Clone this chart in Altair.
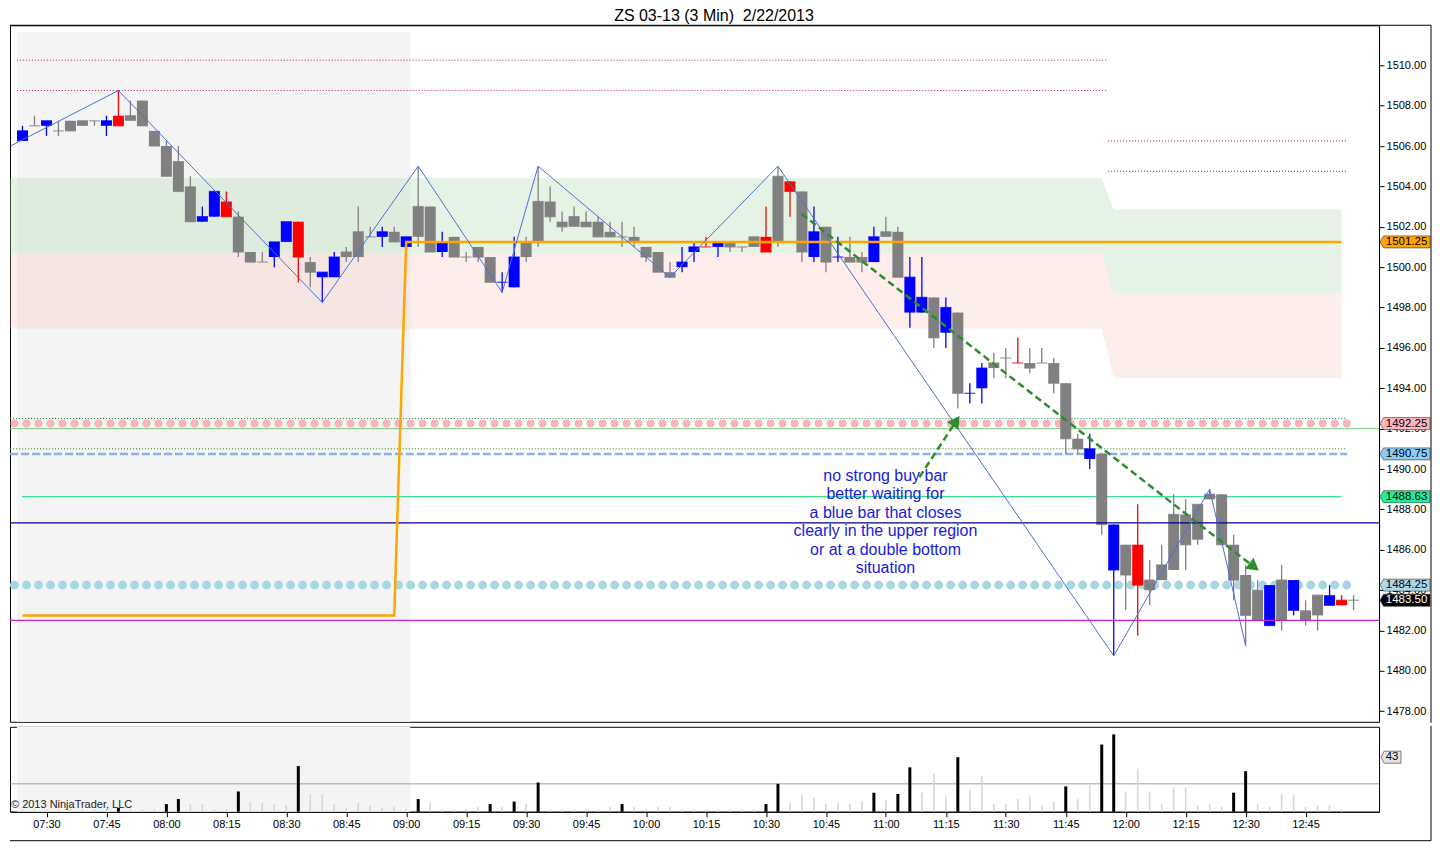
import altair as alt
import pandas as pd

# ZS 03-13, 3 minute bars on 2/22/2013, first bar stamped 07:24
first_bar = 7 * 60 + 24
bar_len = 3

opens = [1506.25, 1507.0, 1507.0, 1506.75, 1507.25, 1507.0, 1507.25, 1507.0, 1507.5, 1507.25,
         1508.25, 1506.75, 1506.0, 1505.25, 1504.0, 1502.25, 1502.5, 1503.25, 1502.5, 1500.75,
         1500.25, 1500.5, 1501.25, 1502.25, 1500.25, 1499.5, 1499.5, 1500.5, 1500.5, 1501.5,
         1501.5, 1501.75, 1501.0, 1501.5, 1503.0, 1500.75, 1501.5, 1500.5, 1501.0, 1500.5,
         1499.25, 1499.0, 1500.5, 1501.25, 1503.25, 1502.25, 1502.0, 1502.25, 1502.25, 1501.75,
         1501.5, 1501.5, 1501.0, 1500.75, 1499.75, 1500.0, 1500.75, 1501.0, 1501.0, 1501.25,
         1501.0, 1501.0, 1501.5, 1501.25, 1504.25, 1503.75, 1500.5, 1502.0, 1500.5, 1500.5,
         1500.5, 1500.25, 1501.5, 1501.75, 1497.75, 1497.75, 1498.5, 1496.75, 1497.75, 1493.75,
         1494.0, 1495.0, 1495.5, 1495.25, 1495.25, 1495.25, 1495.25, 1494.25, 1491.5, 1490.5,
         1490.75, 1487.25, 1486.25, 1486.25, 1484.0, 1484.5, 1485.0, 1487.75, 1486.5, 1488.5,
         1488.75, 1486.25, 1484.75, 1482.5, 1484.25, 1482.5, 1484.5, 1483.0, 1482.75, 1483.75,
         1483.25, 1483.5]
highs = [1507.0, 1507.5, 1507.25, 1507.25, 1507.25, 1507.25, 1507.25, 1507.5, 1508.75, 1508.25,
         1508.25, 1506.75, 1506.25, 1506.0, 1504.5, 1503.0, 1503.75, 1503.75, 1502.75, 1500.75,
         1500.75, 1501.25, 1502.25, 1502.25, 1500.5, 1499.75, 1500.75, 1501.0, 1503.0, 1502.0,
         1502.0, 1502.0, 1501.5, 1505.0, 1503.0, 1501.75, 1501.5, 1500.75, 1501.0, 1500.5,
         1499.75, 1501.5, 1501.5, 1505.0, 1504.0, 1502.75, 1503.0, 1502.75, 1502.5, 1502.25,
         1502.25, 1502.0, 1501.0, 1500.75, 1500.25, 1501.0, 1501.25, 1501.5, 1501.25, 1501.25,
         1501.0, 1501.5, 1503.0, 1505.0, 1504.25, 1503.75, 1503.0, 1502.0, 1501.5, 1501.5,
         1500.75, 1502.0, 1502.5, 1502.0, 1500.5, 1500.5, 1498.5, 1498.5, 1497.75, 1494.25,
         1495.25, 1495.75, 1496.0, 1496.5, 1496.0, 1496.0, 1495.5, 1494.25, 1491.75, 1491.75,
         1490.75, 1487.25, 1486.25, 1488.25, 1485.5, 1486.25, 1488.75, 1488.5, 1488.25, 1489.0,
         1488.75, 1486.75, 1485.25, 1484.5, 1484.25, 1485.25, 1484.5, 1483.5, 1483.75, 1484.25,
         1483.75, 1483.75]
lows = [1506.25, 1507.0, 1506.5, 1506.5, 1506.75, 1507.0, 1507.0, 1506.5, 1507.0, 1507.25,
        1507.0, 1506.0, 1504.5, 1503.75, 1502.25, 1502.25, 1502.5, 1502.5, 1500.5, 1500.25,
        1500.25, 1500.0, 1501.25, 1499.25, 1499.0, 1498.25, 1499.5, 1500.25, 1500.25, 1501.5,
        1501.0, 1501.25, 1501.0, 1501.0, 1500.75, 1500.5, 1500.5, 1500.25, 1500.25, 1499.25,
        1498.75, 1499.0, 1500.25, 1501.0, 1502.25, 1501.75, 1502.0, 1502.0, 1501.5, 1501.5,
        1501.0, 1501.0, 1500.25, 1499.75, 1499.5, 1499.75, 1500.25, 1501.0, 1500.5, 1500.75,
        1500.75, 1501.0, 1500.75, 1501.0, 1502.5, 1500.25, 1500.25, 1499.75, 1500.25, 1500.25,
        1499.75, 1500.25, 1501.5, 1499.5, 1497.0, 1497.75, 1496.0, 1496.0, 1493.0, 1493.25,
        1493.25, 1494.5, 1494.5, 1495.25, 1494.75, 1495.25, 1493.75, 1490.75, 1490.75, 1490.0,
        1486.75, 1480.75, 1483.0, 1481.75, 1483.25, 1484.5, 1485.0, 1485.0, 1486.25, 1488.5,
        1486.25, 1483.5, 1481.25, 1482.5, 1482.25, 1482.0, 1482.75, 1482.25, 1482.0, 1483.25,
        1483.25, 1483.0]
closes = [1506.75, 1507.0, 1507.25, 1506.75, 1506.75, 1507.25, 1507.25, 1507.25, 1507.0, 1507.5,
          1507.0, 1506.0, 1504.5, 1503.75, 1502.25, 1502.5, 1503.75, 1502.5, 1500.75, 1500.25,
          1500.25, 1501.25, 1502.25, 1500.5, 1499.75, 1499.75, 1500.5, 1500.75, 1501.75, 1501.5,
          1501.75, 1501.25, 1501.5, 1503.0, 1500.75, 1501.25, 1500.5, 1500.5, 1500.5, 1499.25,
          1499.25, 1500.5, 1501.25, 1503.25, 1502.5, 1502.0, 1502.5, 1502.0, 1501.5, 1501.5,
          1501.5, 1501.25, 1500.5, 1499.75, 1499.5, 1500.25, 1501.0, 1501.0, 1501.25, 1501.0,
          1501.0, 1501.5, 1500.75, 1504.5, 1503.75, 1500.75, 1501.75, 1500.25, 1500.5, 1500.25,
          1500.25, 1501.5, 1501.75, 1499.5, 1499.5, 1498.5, 1496.5, 1498.0, 1493.75, 1493.75,
          1495.0, 1495.25, 1495.5, 1495.25, 1495.0, 1495.25, 1494.25, 1491.5, 1491.0, 1491.0,
          1487.25, 1485.0, 1484.75, 1484.25, 1484.5, 1485.25, 1487.75, 1486.25, 1488.25, 1488.75,
          1486.25, 1484.5, 1482.75, 1484.0, 1482.25, 1484.5, 1483.0, 1482.5, 1483.75, 1483.25,
          1483.5, 1483.5]
# G = plain bar, B = blue signal bar, R = red signal bar, K = bar still forming
bar_kind = list("BGBGGGGBRGGGGGGBBRGGGBBRGBBGGGBGBGGBGGGGBBGGGGGGGGGGGGGBBRBGGGRGRGBGBGGBGGBBGBGBBGGRGGGGGBGBGRGGGGGGGGGGBGBGGBRGK")

volumes = [2, 2, 2, 2, 2, 2, 2, 2, 3, 2, 2, 2, 6, 10, 6, 6, 2, 2, 16, 8,
           7, 6, 5, 36, 14, 14, 6, 3, 7, 5, 3, 4, 2, 10, 7, 2, 2, 2, 4, 6,
           4, 8, 6, 23, 2, 2, 2, 2, 2, 4, 6, 4, 2, 4, 4, 2, 2, 2, 2, 2,
           2, 2, 6, 22, 7, 13, 11, 6, 7, 6, 8, 15, 9, 14, 35, 15, 30, 12, 43, 17,
           28, 6, 6, 10, 12, 5, 8, 20, 10, 21, 53, 61, 16, 34, 16, 6, 19, 19, 5, 6,
           4, 15, 32, 6, 4, 14, 13, 4, 5, 5, 2]
heavy_bars = [9, 13, 14, 19, 24, 34, 40, 42, 44, 51, 63, 64, 72, 74, 75, 79, 88, 91, 92, 102, 103]
volume_ref = 22
volume_tag = 43

tick_minutes = list(range(7 * 60 + 30, 12 * 60 + 46, 15))
price_ticks = list(range(1478, 1511, 2))

# zigzag swing points (minute, price)
zig_t = [441, 468, 519, 543, 564, 573, 606, 633, 717, 741, 750]
zig_p = [1506.0, 1508.75, 1498.25, 1505.0, 1498.75, 1505.0, 1499.5, 1505.0, 1480.75, 1489.0, 1481.25]

# orange step line
orange_t = [444, 537, 540, 774]
orange_p = [1482.75, 1482.75, 1501.25, 1501.25]

# zone bands
band_t = [440.9, 714.0, 717.0, 774.0]
green_top = [1504.4, 1504.4, 1502.85, 1502.85]
green_bot = [1500.7, 1500.7, 1498.7, 1498.7]
pink_bot = [1496.95, 1496.95, 1494.5, 1494.5]

shade_t = [442.6, 541.0]
shade_top = 1511.63

red_left = [1510.25, 1508.75]
red_right = [1506.25, 1504.75]

tag_prices = [1501.25, 1492.25, 1490.75, 1488.63, 1484.25, 1483.50]

note = ("no strong buy bar\nbetter waiting for\na blue bar that closes\n"
        "clearly in the upper region\nor at a double bottom\nsituation")

arrow_a_t = [638.9, 752.1]
arrow_a_p = [1502.64, 1485.15]
arrow_b_t = [668.4, 677.6]
arrow_b_p = [1489.6, 1492.38]

# ---------------------------------------------------------------
W, H, VH = 1370, 697, 85
font = "Liberation Sans"
x_dom = [440.875, 783.375]
y_dom = [1477.48, 1511.98]
x_scale = alt.Scale(domain=x_dom, nice=False, zero=False, padding=0)
y_scale = alt.Scale(domain=y_dom, nice=False, zero=False)
y_axis = alt.Axis(orient="right", values=price_ticks, format=".2f", tickSize=5, labelPadding=2,
                  labelFont=font, labelFontSize=11, labelColor="black", tickColor="black",
                  domainColor="black", grid=False, title=None)


def X(f):
    return alt.X(f, type="quantitative", scale=x_scale, axis=None)


def Y(f):
    return alt.Y(f, type="quantitative", scale=y_scale, axis=y_axis)


n = len(opens)
candles = pd.DataFrame({
    "t": [first_bar + bar_len * i for i in range(n)],
    "o": opens, "h": highs, "l": lows, "c": closes, "kind": bar_kind[:n],
})
candles["lo"] = candles[["o", "c"]].min(axis=1)
candles["hi"] = candles[["o", "c"]].max(axis=1)
kind_scale = alt.Scale(domain=["G", "B", "R", "K"], range=["#808080", "#0000ff", "#ff0000", "#000000"])
kcolor = alt.Color("kind:N", scale=kind_scale, legend=None)

layers = []
layers.append(alt.Chart(pd.DataFrame({"t0": [shade_t[0]], "t1": [shade_t[1]], "top": [shade_top],
                                      "bot": [y_dom[0]]}))
              .mark_rect(color="#f4f4f4").encode(x=X("t0"), x2="t1", y=Y("top"), y2="bot"))
bands = pd.DataFrame({"t": band_t, "gt": green_top, "gb": green_bot, "pb": pink_bot})
layers.append(alt.Chart(bands).mark_area(color="#b5dcb5", opacity=0.35)
              .encode(x=X("t"), y=Y("gt"), y2="gb"))
layers.append(alt.Chart(bands).mark_area(color="#f7c6c0", opacity=0.3)
              .encode(x=X("t"), y=Y("gb"), y2="pb"))


def level(prices, t0, t1, **style):
    df = pd.DataFrame({"p": prices, "t0": t0, "t1": t1})
    return alt.Chart(df).mark_rule(**style).encode(x=X("t0"), x2="t1", y=Y("p"))


def full_level(price, **style):
    return alt.Chart(pd.DataFrame({"p": [price]})).mark_rule(**style).encode(
        x=alt.value(0), x2=alt.value(W), y=Y("p"))


dots = dict(strokeDash=[0.01, 12], strokeCap="round")
layers += [
    level(red_left, 442.6, 715.1, color="#c0203c", strokeWidth=1, strokeDash=[1, 2]),
    level(red_right, 715.6, 775.4, color="#a01830", strokeWidth=1, strokeDash=[1, 2]),
    level([1492.25], 442.0, 775.4, color="#f7b4c0", strokeWidth=8, **dots),
    level([1484.25], 442.0, 775.4, color="#a9d6e5", strokeWidth=9, **dots),
    level([1492.5, 1491.0], 440.9, 775.4, color="#1e7a1e", strokeWidth=1, strokeDash=[1, 2]),
    level([1490.75], 440.9, 775.4, color="#8ab4e8", strokeWidth=2.5, strokeDash=[8, 3]),
    level([1488.63], 443.9, 773.9, color="#3ddc97", strokeWidth=1.2),
    full_level(1492.0, color="#74cc74", strokeWidth=1),
]

base = alt.Chart(candles).encode(x=X("t:Q"))
layers += [
    base.mark_rule(strokeWidth=1.3).encode(y=Y("l"), y2="h", color=kcolor),
    base.mark_bar(size=11).encode(y=Y("lo"), y2="hi", color=kcolor),
    base.mark_tick(orient="horizontal", size=11, thickness=1.3).encode(y=Y("c"), color=kcolor),
]
layers += [
    full_level(1487.33, color="#00008b", strokeWidth=1.2),
    full_level(1482.5, color="#cc22cc", strokeWidth=1.2),
    alt.Chart(pd.DataFrame({"t": orange_t, "p": orange_p})).mark_line(color="#ffa500", strokeWidth=2.5)
    .encode(x=X("t"), y=Y("p")),
    alt.Chart(pd.DataFrame({"t": zig_t, "p": zig_p})).mark_line(color="#4a6fd8", strokeWidth=1)
    .encode(x=X("t"), y=Y("p")),
]

for at, ap, ang in [(arrow_a_t, arrow_a_p, 38), (arrow_b_t, arrow_b_p, 305)]:
    adf = pd.DataFrame({"t": at, "p": ap})
    layers.append(alt.Chart(adf).mark_line(color="#2e8b2e", strokeWidth=2.5, strokeDash=[7, 4])
                  .encode(x=X("t"), y=Y("p")))
    layers.append(alt.Chart(adf.tail(1)).mark_point(shape="triangle-right", filled=True, size=190,
                                                    color="#2e8b2e", opacity=1, angle=ang)
                  .encode(x=X("t"), y=Y("p")))

layers.append(alt.Chart(pd.DataFrame({"t": [659.9], "p": [1490.05], "txt": [note]}))
              .mark_text(align="center", baseline="top", font=font, fontSize=16, color="#1a1adc",
                         lineBreak="\n", lineHeight=18.4)
              .encode(x=X("t"), y=Y("p"), text="txt:N"))

tag_path = "M-1,0L-0.86,-0.24L1,-0.24L1,0.24L-0.86,0.24Z"
tag_fill = ["#ffa500", "#ffb6c1", "#87cefa", "#22ee99", "#add8e6", "#000000"]
tag_ink = ["black", "black", "black", "black", "black", "white"]
for p, fill, ink in zip(tag_prices, tag_fill, tag_ink):
    tdf = pd.DataFrame({"p": [p]})
    layers.append(alt.Chart(tdf).mark_point(shape=tag_path, size=2500, filled=True, fill=fill,
                                            stroke="#333333", strokeWidth=0.6, opacity=1)
                  .encode(x=alt.value(1396), y=Y("p")))
    layers.append(alt.Chart(tdf).mark_text(font=font, fontSize=11.5, color=ink, align="center")
                  .encode(x=alt.value(1397.5), y=Y("p"), text=alt.Text("p:Q", format=".2f")))

FR = 1422  # outer frame, right edge
layers.append(alt.Chart(pd.DataFrame({"a": [0]})).mark_rule(color="black", strokeWidth=1)
              .encode(x=alt.value(0), x2=alt.value(FR), y=alt.value(0)))
layers.append(alt.Chart(pd.DataFrame({"a": [0]})).mark_rule(color="black", strokeWidth=1)
              .encode(x=alt.value(FR), y=alt.value(0), y2=alt.value(H + 1)))

price = alt.layer(*layers).properties(width=W, height=H)

# ---------------- volume panel ----------------
x_axis = alt.Axis(values=tick_minutes, tickSize=5, labelPadding=2, labelFont=font, labelFontSize=11,
                  labelColor="black", tickColor="black", domainColor="black", grid=False, title=None,
                  labelExpr="(floor(datum.value/60) < 10 ? '0' : '') + floor(datum.value/60) + ':' + "
                            "(datum.value % 60 < 10 ? '0' : '') + (datum.value % 60)")
v_scale = alt.Scale(domain=[0, 67], nice=False, zero=True)
vol = pd.DataFrame({"t": [first_bar + bar_len * i for i in range(len(volumes))], "v": volumes,
                    "heavy": [(i + 1) in heavy_bars for i in range(len(volumes))]})


def VX(f):
    return alt.X(f, type="quantitative", scale=x_scale, axis=x_axis)


VY = alt.Y("v:Q", scale=v_scale, axis=None)
FB = 114  # outer frame, bottom edge
vlayers = [
    alt.Chart(pd.DataFrame({"t0": [shade_t[0]], "t1": [shade_t[1]]})).mark_rect(color="#f4f4f4")
    .encode(x=VX("t0"), x2="t1", y=alt.value(0), y2=alt.value(VH)),
    alt.Chart(pd.DataFrame({"v": [volume_ref]})).mark_rule(color="#a0a0a0", strokeWidth=1)
    .encode(x=alt.value(0), x2=alt.value(W), y=VY),
    alt.Chart(vol[~vol.heavy]).mark_bar(size=1.6, color="#d6d6d6").encode(x=VX("t"), y=VY),
    alt.Chart(vol[vol.heavy]).mark_bar(size=3, color="black").encode(x=VX("t"), y=VY),
    alt.Chart(pd.DataFrame({"v": [volume_tag]})).mark_point(
        shape="M-1,0L-0.7,-0.6L1,-0.6L1,0.6L-0.7,0.6Z", size=400, filled=True, fill="#e4e4e4",
        stroke="#333333", strokeWidth=0.6, opacity=1)
    .encode(x=alt.value(1382), y=VY),
    alt.Chart(pd.DataFrame({"v": [volume_tag]})).mark_text(font=font, fontSize=11.5, color="black")
    .encode(x=alt.value(1383), y=VY, text="v:Q"),
    alt.Chart(pd.DataFrame({"txt": ["© 2013 NinjaTrader, LLC"]}))
    .mark_text(font=font, fontSize=11, color="#222222", align="left", baseline="bottom")
    .encode(x=alt.value(1), y=alt.value(VH - 2), text="txt:N"),
    alt.Chart(pd.DataFrame({"a": [0]})).mark_rule(color="black", strokeWidth=1)
    .encode(x=alt.value(0), x2=alt.value(FR), y=alt.value(FB)),
    alt.Chart(pd.DataFrame({"a": [0]})).mark_rule(color="black", strokeWidth=1)
    .encode(x=alt.value(FR), y=alt.value(-1), y2=alt.value(FB)),
]
volume = alt.layer(*vlayers).properties(width=W, height=VH)

chart = alt.vconcat(price, volume, spacing=1).resolve_scale(x="independent", y="independent").properties(
    title=alt.TitleParams("ZS 03-13 (3 Min)\u00a0 2/22/2013", font=font, fontSize=16, fontWeight="normal",
                          color="black", anchor="middle", offset=0, dx=-6),
    padding=0,
).configure_view(stroke="black", strokeWidth=1)

chart.save("out.html", embed_options={"renderer": "svg", "actions": False})
